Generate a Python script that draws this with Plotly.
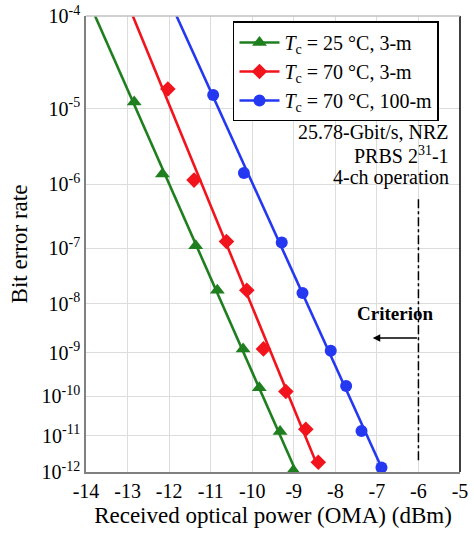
import numpy as np
import plotly.graph_objects as go

power_25c_3m = [-12.84, -12.16, -11.36, -10.84, -10.22, -9.83, -9.33, -9.01]
ber_25c_3m = [1.2e-5, 1.4e-6, 1.1e-7, 1.8e-8, 1.2e-9, 1.6e-10, 1.3e-11, 1.1e-12]

power_70c_3m = [-12.03, -11.40, -10.62, -10.13, -9.73, -9.19, -8.71, -8.41]
ber_70c_3m = [1.7e-5, 1.15e-6, 1.3e-7, 1.8e-8, 1.2e-9, 1.3e-10, 1.5e-11, 1.9e-12]

power_70c_100m = [-10.94, -10.20, -9.29, -8.79, -8.11, -7.74, -7.37, -6.89]
ber_70c_100m = [1.45e-5, 1.45e-6, 1.25e-7, 1.6e-8, 1.1e-9, 1.75e-10, 1.35e-11, 1.35e-12]

labels = ["<i>T</i><sub>c</sub> = 25 °C, 3-m",
          "<i>T</i><sub>c</sub> = 70 °C, 3-m",
          "<i>T</i><sub>c</sub> = 70 °C, 100-m"]
colors = ["#1f7f1f", "#f2141c", "#2438f2"]
symbols = ["triangle-up", "diamond", "circle"]
sizes = [13, 12, 12]

ber_ticks = [1e-4, 1e-5, 1e-6, 1e-7, 1e-8, 1e-9, 1e-10, 1e-11, 1e-12]
x_ticks = [-14, -13, -12, -11, -10, -9, -8, -7, -6, -5]
criterion_power = -6


def qscale(ber):
    # BER axis drawn on log(-log(BER)) scale so the curves are straight
    return np.log10(-np.log10(np.asarray(ber, dtype=float)))


FONT = "Liberation Serif, Times New Roman, serif"
fig = go.Figure()

series = [(power_25c_3m, ber_25c_3m), (power_70c_3m, ber_70c_3m), (power_70c_100m, ber_70c_100m)]
q_top = qscale(ber_ticks[0])
for (p, b), lab, col, sym, sz in zip(series, labels, colors, symbols, sizes):
    q = qscale(b)
    k, c = np.polyfit(q, p, 1)
    qq = np.array([q_top, q[-1]])
    fig.add_trace(go.Scatter(x=k * qq + c, y=qq, mode="lines",
                             line=dict(color=col, width=2.6), showlegend=False, hoverinfo="skip"))
    fig.add_trace(go.Scatter(x=p, y=q, mode="markers", showlegend=False,
                             marker=dict(symbol=sym, size=sz, color=col)))
    # legend entry
    fig.add_trace(go.Scatter(x=[None], y=[None], mode="lines+markers", name=lab,
                             line=dict(color=col, width=2.6),
                             marker=dict(symbol=sym, size=sz, color=col)))

# criterion line and arrow
fig.add_shape(type="line", x0=criterion_power, x1=criterion_power, xref="x", yref="paper",
              y0=0.026, y1=0.603, line=dict(color="black", width=1.5, dash="dashdot"))
# right frame line
fig.add_shape(type="line", x0=1, x1=1, xref="paper", yref="paper", y0=0, y1=1,
              line=dict(color="black", width=1.5))
fig.add_annotation(x=-7.1, y=0.9391, ax=criterion_power, ay=0.9391, xref="x", yref="y",
                   axref="x", ayref="y", text="", showarrow=True, arrowhead=2,
                   arrowsize=1, arrowwidth=1.5, arrowcolor="black")
fig.add_annotation(x=-6.56, y=0.913, xref="x", yref="y", text="<b>Criterion</b>",
                   showarrow=False, font=dict(family=FONT, size=19, color="black"))

info_lines = ["25.78-Gbit/s, NRZ", "PRBS 2<sup>31</sup>-1", "4-ch operation"]
for i, t in enumerate(info_lines):
    fig.add_annotation(x=0.977, y=0.745 - i * 0.0498, xref="paper", yref="paper", text=t,
                       xanchor="right", yanchor="middle", showarrow=False,
                       font=dict(family=FONT, size=20, color="black"))

fig.update_layout(
    width=474, height=537,
    margin=dict(l=86, r=14, t=16, b=65),
    paper_bgcolor="white", plot_bgcolor="white",
    font=dict(family=FONT, size=20, color="black"),
    legend=dict(x=0.393, y=0.988, xanchor="left", yanchor="top",
                bordercolor="black", borderwidth=1.5, bgcolor="white",
                font=dict(family=FONT, size=20), tracegroupgap=0, itemwidth=40),
)
fig.update_xaxes(range=[-14, -5], tickvals=x_ticks, ticktext=[str(v) for v in x_ticks],
                 showgrid=True, gridcolor="#dcdcdc", gridwidth=1, zeroline=False,
                 showline=True, linecolor="#808080", linewidth=1.5, mirror=False, ticks="",
                 tickfont=dict(family=FONT, size=20), automargin=False, ticklabeloverflow="allow",
                 title=dict(text="Received optical power (OMA) (dBm)", font=dict(family=FONT, size=23), standoff=6))
fig.update_yaxes(range=[qscale(1e-12), qscale(1e-4)], tickvals=qscale(ber_ticks),
                 ticktext=["10<sup>%d</sup>" % int(round(np.log10(v))) for v in ber_ticks],
                 showgrid=True, gridcolor="#dcdcdc", gridwidth=1, zeroline=False,
                 showline=True, linecolor="#808080", linewidth=1.5, mirror=False, ticks="",
                 tickfont=dict(family=FONT, size=20), automargin=False, ticklabeloverflow="allow",
                 title=dict(text="Bit error rate", font=dict(family=FONT, size=23), standoff=8))
fig.add_shape(type="line", x0=0, x1=1, xref="paper", yref="paper", y0=1, y1=1,
              line=dict(color="#c0c0c0", width=1.5))

# drop the page's default body margin so the figure sits at the window corner
fig.write_html("out.html", config={"displayModeBar": False},
               post_script="document.body.style.margin = '0';")
